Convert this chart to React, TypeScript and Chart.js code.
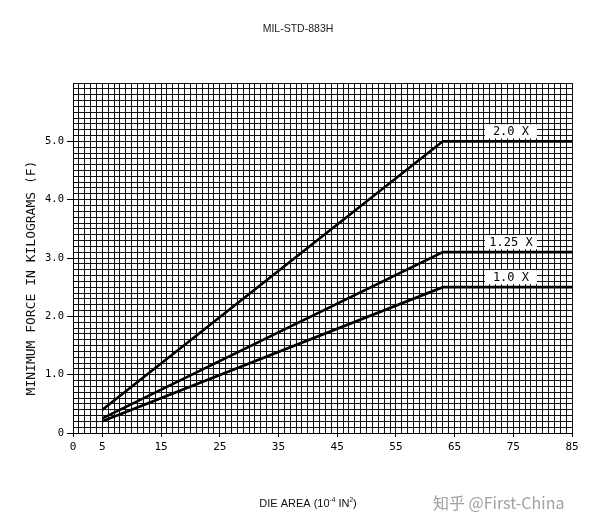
import React, { useEffect, useRef } from "react";
import { Chart, registerables } from "chart.js";

Chart.register(...registerables);

// ---- Data ----
const DIE_AREA = [5, 63, 85];
const FORCE_2X = [0.4, 5.0, 5.0];
const FORCE_125X = [0.25, 3.1, 3.1];
const FORCE_1X = [0.2, 2.5, 2.5];
const SERIES_NAMES = ["2.0 X", "1.25 X", "1.0 X"];
const X_TICK_LABELS = [0, 5, 15, 25, 35, 45, 55, 65, 75, 85];
const Y_TICK_LABELS = [0, 1, 2, 3, 4, 5];

const TITLE = "MIL-STD-883H";
const Y_TITLE = "MINIMUM FORCE IN KILOGRAMS (F)";
const WATERMARK = "知乎 @First-China";

const MONO = '"DejaVu Sans Mono", "Liberation Mono", monospace';
const SANS = '"Liberation Sans", Arial, sans-serif';

const isXLabel = (v: number) => X_TICK_LABELS.some((t) => Math.abs(t - v) < 1e-6);
const isYLabel = (v: number) => Y_TICK_LABELS.some((t) => Math.abs(t - v) < 1e-6);

const textPlugin = {
  id: "textPlugin",
  afterDatasetsDraw(chart: any) {
    const ctx = chart.ctx as CanvasRenderingContext2D;
    const xs = chart.scales.x;
    const ys = chart.scales.y;
    const series = [FORCE_2X, FORCE_125X, FORCE_1X];
    ctx.save();
    ctx.font = `12px ${MONO}`;
    ctx.textAlign = "center";
    ctx.textBaseline = "middle";
    series.forEach((s, i) => {
      const cx = xs.getPixelForValue(74.6);
      const cy = ys.getPixelForValue(s[s.length - 1]) - 10;
      ctx.fillStyle = "#ffffff";
      ctx.fillRect(cx - 26, cy - 7, 52, 14);
      ctx.fillStyle = "#000000";
      ctx.fillText(SERIES_NAMES[i], cx, cy + 0.5);
    });
    ctx.restore();
  },
  afterDraw(chart: any) {
    const ctx = chart.ctx as CanvasRenderingContext2D;
    ctx.save();
    // Title
    ctx.fillStyle = "#222";
    ctx.font = `10.5px ${SANS}`;
    ctx.textAlign = "center";
    ctx.textBaseline = "middle";
    ctx.fillText(TITLE, 298, 29);

    // Y title
    ctx.save();
    ctx.translate(32, 278);
    ctx.rotate(-Math.PI / 2);
    ctx.font = `13px ${MONO}`;
    ctx.fillStyle = "#111";
    ctx.fillText(Y_TITLE, 0, 0);
    ctx.restore();

    // X title with superscripts
    const parts: [string, boolean][] = [
      ["DIE AREA (10", false],
      ["-4", true],
      [" IN", false],
      ["2", true],
      [")", false],
    ];
    const normal = `11px ${SANS}`;
    const sup = `6.5px ${SANS}`;
    let total = 0;
    parts.forEach(([t, s]) => {
      ctx.font = s ? sup : normal;
      total += ctx.measureText(t).width;
    });
    let x = 308 - total / 2;
    ctx.textAlign = "left";
    ctx.textBaseline = "alphabetic";
    ctx.fillStyle = "#111";
    parts.forEach(([t, s]) => {
      ctx.font = s ? sup : normal;
      ctx.fillText(t, x, s ? 502 : 507);
      x += ctx.measureText(t).width;
    });

    // Watermark
    ctx.font = `16px "Noto Sans CJK SC", "Noto Sans", sans-serif`;
    ctx.fillStyle = "#a0a0a0";
    ctx.textAlign = "left";
    ctx.textBaseline = "middle";
    ctx.fillText(WATERMARK, 433, 503);
    ctx.restore();
  },
};

export default function App() {
  const ref = useRef<HTMLCanvasElement | null>(null);

  useEffect(() => {
    document.body.style.margin = "0";
    const canvas = ref.current;
    if (!canvas) return;
    const mk = (ys: number[], label: string) => ({
      label,
      data: DIE_AREA.map((x, i) => ({ x, y: ys[i] })),
      showLine: true,
      borderColor: "#000",
      backgroundColor: "#000",
      borderWidth: 2.6,
      pointRadius: 0,
      fill: false,
      tension: 0,
    });
    const chart = new Chart(canvas, {
      type: "scatter",
      data: {
        datasets: [
          mk(FORCE_2X, SERIES_NAMES[0]),
          mk(FORCE_125X, SERIES_NAMES[1]),
          mk(FORCE_1X, SERIES_NAMES[2]),
        ],
      },
      options: {
        animation: false,
        responsive: false,
        devicePixelRatio: 1,
        layout: { padding: { top: 83, right: 28, left: 0, bottom: 0 } },
        plugins: {
          legend: { display: false },
          title: { display: false },
          tooltip: { enabled: false },
        },
        scales: {
          x: {
            type: "linear",
            min: 0,
            max: 85,
            afterFit: (s: any) => {
              s.height = 93;
            },
            border: { display: true, color: "#000", width: 1 },
            grid: {
              color: "#111",
              lineWidth: 1,
              drawTicks: true,
              tickLength: 4,
              tickColor: (c: any) => (c.tick && isXLabel(c.tick.value) ? "#000" : "rgba(0,0,0,0)"),
            },
            ticks: {
              stepSize: 1,
              autoSkip: false,
              maxRotation: 0,
              padding: 4,
              color: "#000",
              font: { family: MONO, size: 11 },
              callback: (v: any) => (isXLabel(Number(v)) ? String(Math.round(Number(v))) : ""),
            },
          },
          y: {
            type: "linear",
            min: 0,
            max: 6,
            afterFit: (s: any) => {
              s.width = 73;
            },
            border: { display: true, color: "#000", width: 1 },
            grid: {
              color: "#111",
              lineWidth: 1,
              drawTicks: true,
              tickLength: 6,
              tickColor: (c: any) => (c.tick && isYLabel(c.tick.value) ? "#000" : "rgba(0,0,0,0)"),
            },
            ticks: {
              stepSize: 0.1,
              autoSkip: false,
              padding: 3,
              color: "#000",
              font: { family: MONO, size: 10.5 },
              callback: (v: any) => {
                const n = Number(v);
                if (!isYLabel(n)) return "";
                const r = Math.round(n);
                return r === 0 ? "0" : r.toFixed(1);
              },
            },
          },
        },
      },
      plugins: [textPlugin],
    } as any);
    return () => chart.destroy();
  }, []);

  return (
    <div style={{ position: "absolute", left: 0, top: 0, width: 600, height: 526, background: "#fff" }}>
      <canvas ref={ref} width={600} height={526} style={{ width: 600, height: 526, display: "block" }} />
    </div>
  );
}
